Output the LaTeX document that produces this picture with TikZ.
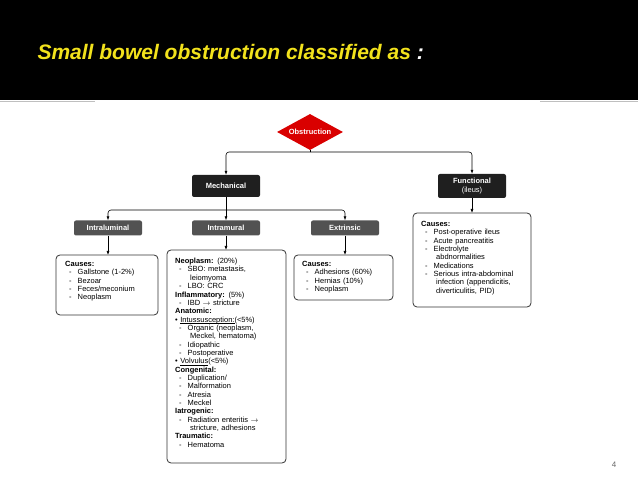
\documentclass[tikz,border=0pt]{standalone}
\usepackage{fontspec}
\setmainfont{Liberation Sans}
\usetikzlibrary{shapes.geometric,arrows.meta}
\newcommand\myul[1]{\setbox0\hbox{#1}\rlap{\rule[-1.2pt]{\wd0}{0.4pt}}\box0}
\begin{document}
\begin{tikzpicture}[x=1pt,y=-1pt,
  dk/.style={rectangle,rounded corners=2pt,fill=black!88,text=white,font=\bfseries\fontsize{7.5}{8.5}\selectfont,minimum width=68pt,align=center},
  gr/.style={rectangle,rounded corners=2pt,fill=black!68,text=white,font=\bfseries\fontsize{7.5}{8.5}\selectfont,minimum width=68pt,minimum height=15pt},
  bx/.style={anchor=north west,align=left,inner sep=0pt,font=\fontsize{7.5}{8.35}\selectfont,text width=#1},
  frm/.style={draw=black!80,line width=0.8pt,rounded corners=4pt},
  ar/.style={-{Latex[length=4pt,width=3pt]},line width=0.6pt,rounded corners=3pt}]
\useasboundingbox (0,0) rectangle (638,478);
\fill[black] (0,0) rectangle (638,100);
\draw[white!75!black,line width=0.8pt] (0,101) -- (95,101) (540,101) -- (638,101);
\node[anchor=west,font=\bfseries\itshape\fontsize{21}{24}\selectfont] (title) at (34,52) {\textcolor[HTML]{F2E21C}{Small bowel obstruction classified as} \textcolor{white}{:}};
\node[diamond,fill=red!85!black,text=white,font=\bfseries\fontsize{7.5}{8}\selectfont,minimum width=66pt,minimum height=36pt,inner sep=0pt,aspect=1.8] (obs) at (310,132) {Obstruction};
\node[dk,minimum height=22pt] (mech) at (226,186) {Mechanical};
\node[dk,minimum height=24pt,font=\fontsize{7.5}{8.5}\selectfont] (func) at (472,186) {\textbf{Functional}\\(ileus)};
\node[gr] (intral) at (108,228) {Intraluminal};
\node[gr] (intram) at (226,228) {Intramural};
\node[gr] (extr) at (345,228) {Extrinsic};
\coordinate (j1) at (310,152);
\coordinate (j2) at (226,210);
\draw[line width=0.6pt] (obs.south) -- (j1);
\draw[ar] (j1) -| (mech.north);
\draw[ar] (j1) -| (func.north);
\draw[line width=0.6pt] (mech.south) -- (j2);
\draw[ar] (j2) -| (intral.north);
\draw[ar] (j2) -- (intram.north);
\draw[ar] (j2) -| (extr.north);
\draw[frm] (56,255) coordinate (c1) rectangle (158,315);
\draw[frm] (167,250) coordinate (c2) rectangle (286,463);
\draw[frm] (294,255) coordinate (c3) rectangle (393,300);
\draw[frm] (413,213) coordinate (c4) rectangle (531,307);
\node[bx=92pt] (t1) at (65,261) {\textbf{Causes:}\\
\hspace*{4pt}-\hspace{6pt}Gallstone (1-2\%)\\
\hspace*{4pt}-\hspace{6pt}Bezoar\\
\hspace*{4pt}-\hspace{6pt}Feces/meconium\\
\hspace*{4pt}-\hspace{6pt}Neoplasm};
\node[bx=112pt] (t2) at (175,258) {\textbf{Neoplasm:} (20\%)\\
\hspace*{4pt}-\hspace{6pt}SBO: metastasis,\\
\hspace*{15pt}leiomyoma\\
\hspace*{4pt}-\hspace{6pt}LBO: CRC\\
\textbf{Inflammatory:} (5\%)\\
\hspace*{4pt}-\hspace{6pt}IBD $\rightarrow$ stricture\\
\textbf{Anatomic:}\\
\textbullet\ \myul{Intussusception:} (<5\%)\\
\hspace*{4pt}-\hspace{6pt}Organic (neoplasm,\\
\hspace*{15pt}Meckel, hematoma)\\
\hspace*{4pt}-\hspace{6pt}Idiopathic\\
\hspace*{4pt}-\hspace{6pt}Postoperative\\
\textbullet\ \myul{Volvulus} (<5\%)\\
\textbf{Congenital:}\\
\hspace*{4pt}-\hspace{6pt}Duplication/\\
\hspace*{4pt}-\hspace{6pt}Malformation\\
\hspace*{4pt}-\hspace{6pt}Atresia\\
\hspace*{4pt}-\hspace{6pt}Meckel\\
\textbf{Iatrogenic:}\\
\hspace*{4pt}-\hspace{6pt}Radiation enteritis $\rightarrow$\\
\hspace*{15pt}stricture, adhesions\\
\textbf{Traumatic:}\\
\hspace*{4pt}-\hspace{6pt}Hematoma};
\node[bx=92pt] (t3) at (302,261) {\textbf{Causes:}\\
\hspace*{4pt}-\hspace{6pt}Adhesions (60\%)\\
\hspace*{4pt}-\hspace{6pt}Hernias (10\%)\\
\hspace*{4pt}-\hspace{6pt}Neoplasm};
\node[bx=112pt] (t4) at (421,221) {\textbf{Causes:}\\
\hspace*{4pt}-\hspace{6pt}Post-operative ileus\\
\hspace*{4pt}-\hspace{6pt}Acute pancreatitis\\
\hspace*{4pt}-\hspace{6pt}Electrolyte\\
\hspace*{15pt}abdnormalities\\
\hspace*{4pt}-\hspace{6pt}Medications\\
\hspace*{4pt}-\hspace{6pt}Serious intra-abdominal\\
\hspace*{15pt}infection (appendicitis,\\
\hspace*{15pt}diverticulitis, PID)};
\draw[ar] (intral.south) -- (intral.south|-c1);
\draw[ar] (intram.south) -- (intram.south|-c2);
\draw[ar] (extr.south) -- (extr.south|-c3);
\draw[ar] (func.south) -- (func.south|-c4);
\node[font=\fontsize{8}{9}\selectfont,text=black!60] (pg) at (614,465) {4};
\end{tikzpicture}
\end{document}
